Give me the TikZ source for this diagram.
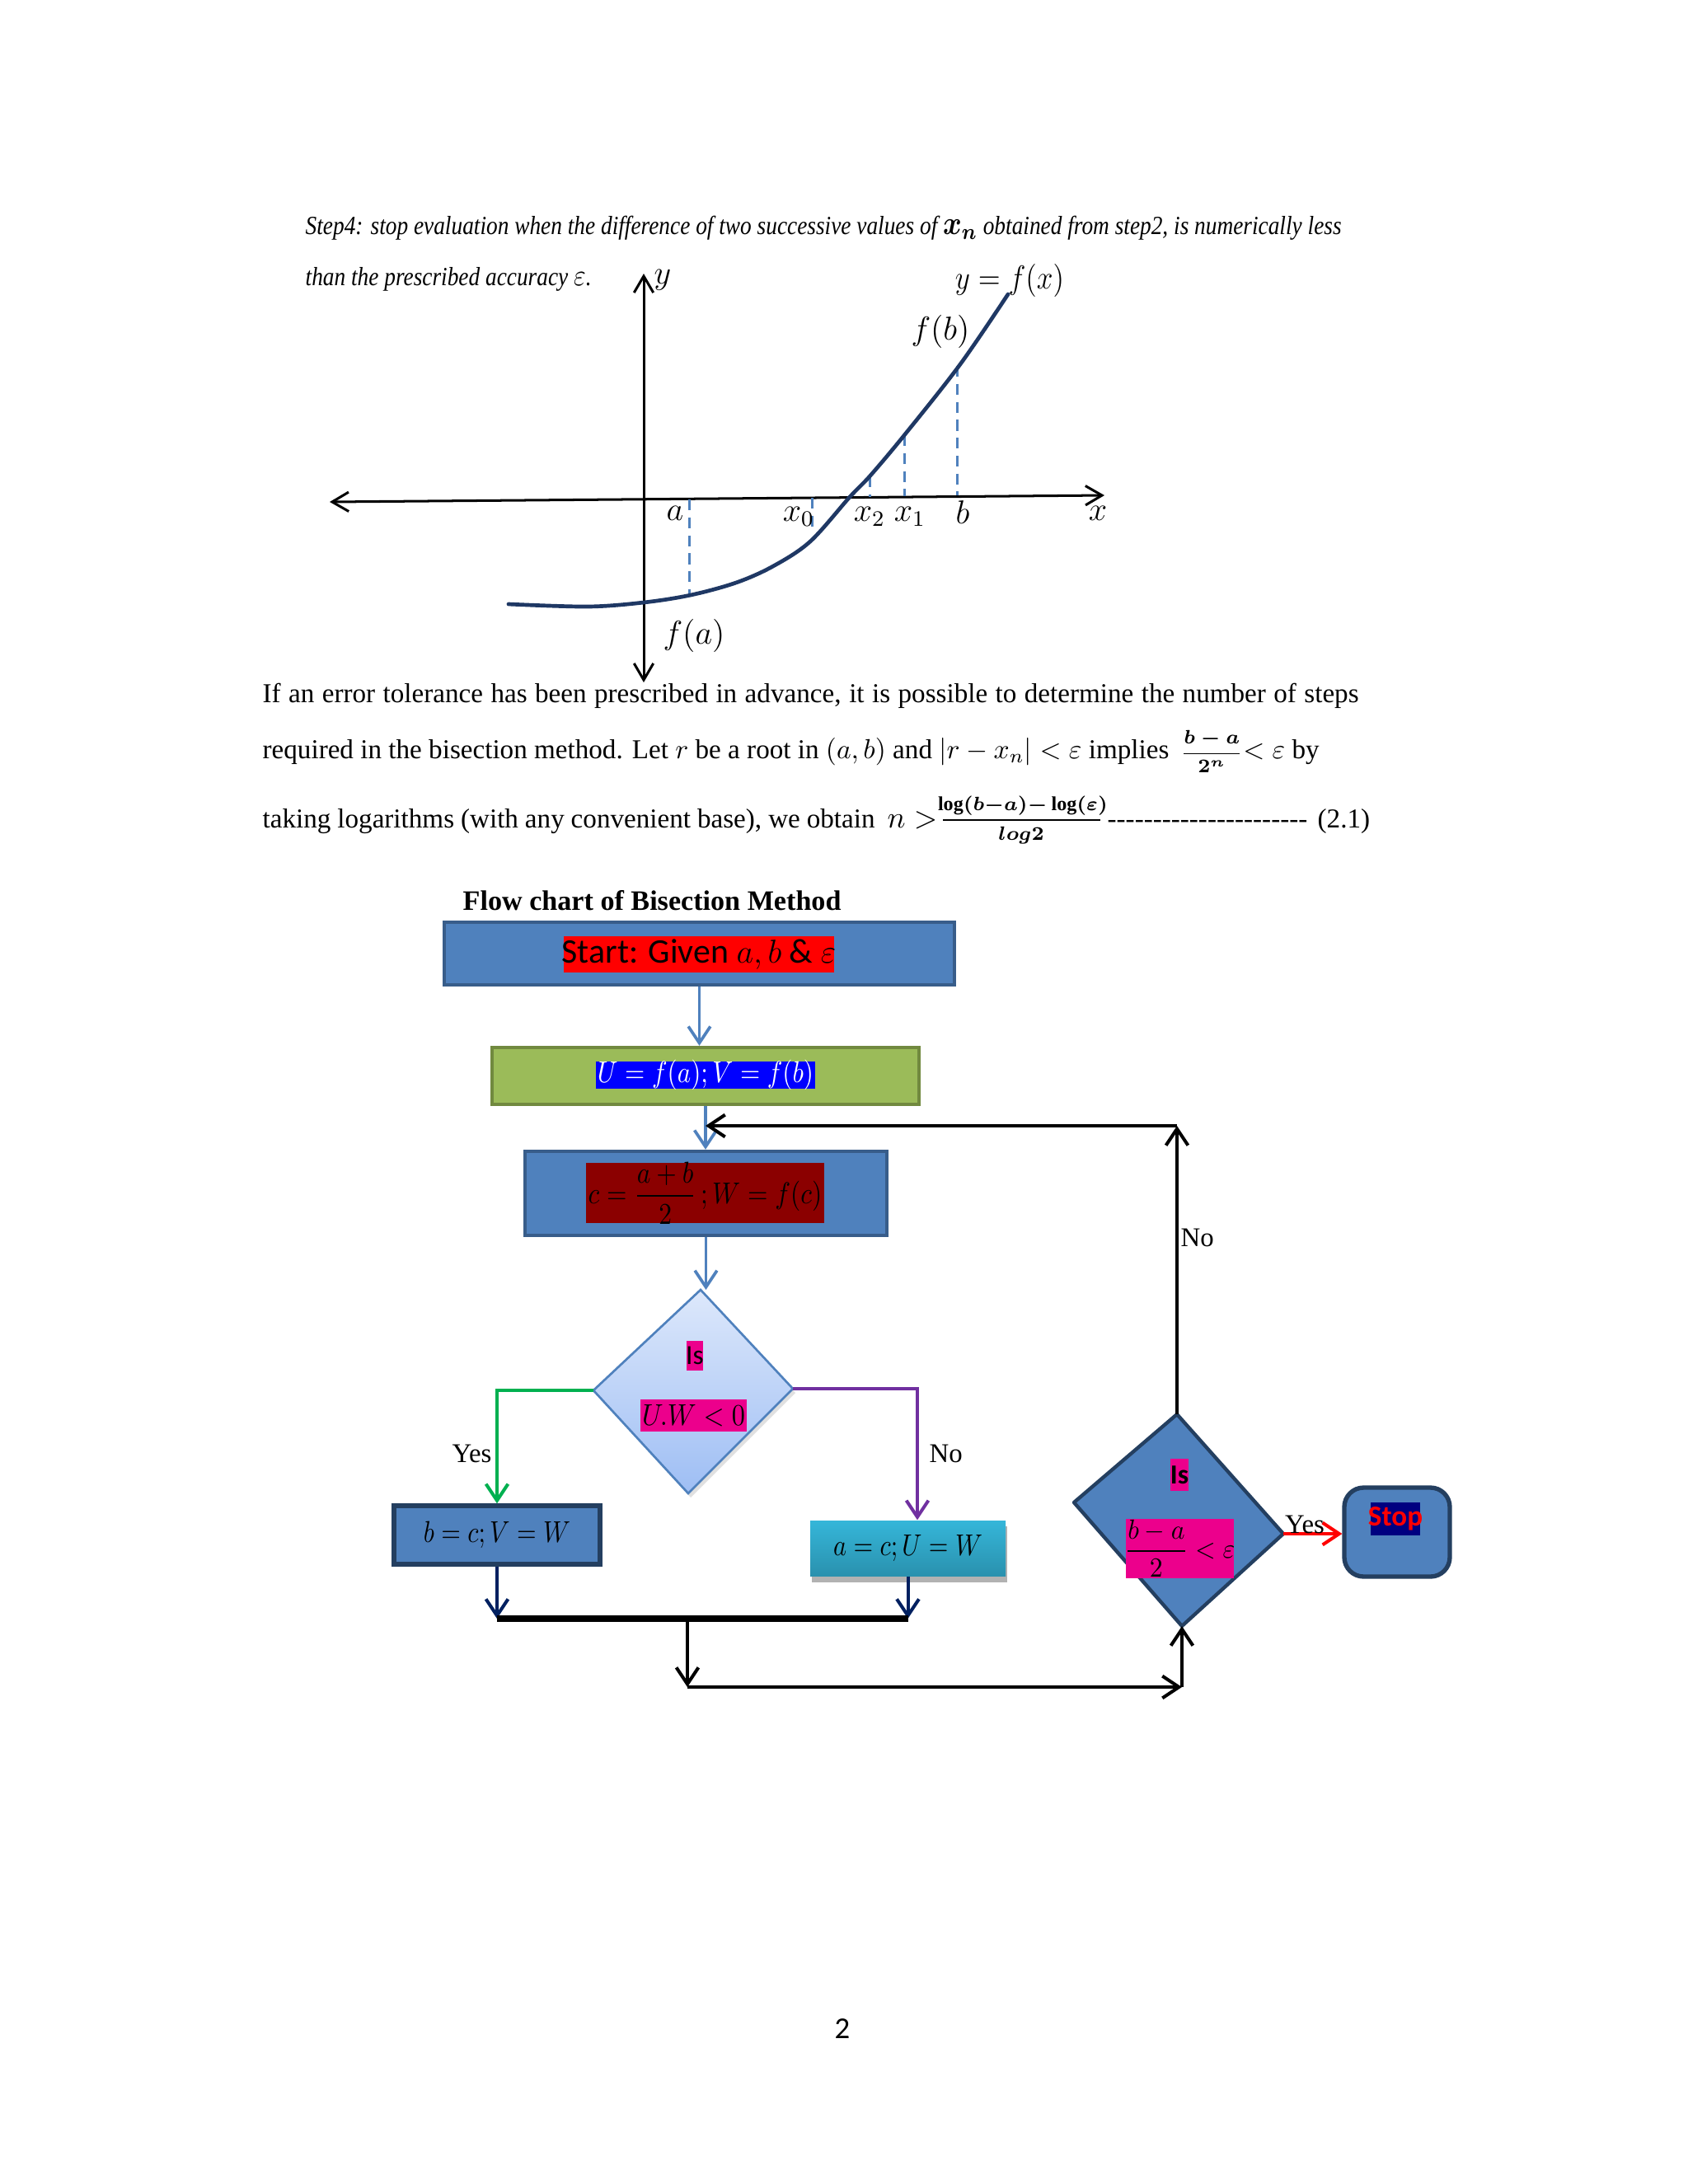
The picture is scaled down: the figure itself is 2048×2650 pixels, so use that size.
\documentclass[tikz,border=0pt]{standalone}
\usepackage{amsmath}
\usepackage{graphicx}
\usepackage{fontspec}
\setmainfont{Liberation Serif}
\newfontfamily\calib{Carlito}
\newfontfamily\plainserif{Liberation Serif}[Ligatures=TeXOff]
\usetikzlibrary{arrows.meta,fit}
\newcommand\narrowit[2]{\scalebox{#1}[1]{#2}}
\definecolor{boxblue}{HTML}{4F81BD}
\definecolor{boxline}{HTML}{385D8A}
\definecolor{darkline}{HTML}{243F60}
\definecolor{olive}{HTML}{9BBB59}
\definecolor{oliveline}{HTML}{71893F}
\definecolor{maroonhl}{HTML}{8B0000}
\definecolor{navyhl}{HTML}{000080}
\definecolor{curvecol}{HTML}{1F3864}
\definecolor{navyarrow}{HTML}{002060}
\definecolor{greenarrow}{HTML}{00B050}
\definecolor{purplearrow}{HTML}{7030A0}
\definecolor{cyantop}{HTML}{35B6D9}
\definecolor{cyanbot}{HTML}{2A91AE}
\definecolor{dtop}{HTML}{DDE8FB}
\definecolor{dbot}{HTML}{9EBEF4}
\begin{document}
\begin{tikzpicture}[x=0.29883pt,y=-0.29883pt,
  barb/.style={-{Straight Barb[length=6pt,width=8pt]}},
  twobarb/.style={{Straight Barb[length=6pt,width=7pt]}-{Straight Barb[length=6pt,width=7pt]}},
  axisline/.style={line width=0.9pt},
  dashln/.style={boxblue, line width=0.9pt, dash pattern=on 4pt off 2.5pt},
  glab/.style={inner sep=0pt, font=\fontsize{12}{14}\selectfont},
  body/.style={inner sep=0pt, anchor=base west, font=\fontsize{9.9}{12}\selectfont},
  ylab/.style={inner sep=0pt, font=\fontsize{9.8}{12}\selectfont},
  bluearr/.style={boxblue, line width=1.1pt, barb},
  blkarr/.style={black, line width=1.2pt, barb},
  navyarr/.style={navyarrow, line width=1.2pt, barb},
  hl/.style={inner sep=0pt},
  txt/.style={inner sep=0pt},
  mtxt/.style={inner sep=0pt, font=\fontsize{10.5}{12}\selectfont}
]
\useasboundingbox (0,0) rectangle (2048,2650);
\fill[white] (0,0) rectangle (2048,2650);

% ---------- top text ----------
\node[anchor=base west, inner sep=0pt] (s4a) at (370,284) {\narrowit{0.86}{\fontsize{9.5}{11}\selectfont\itshape Step4: stop evaluation when the difference of two successive values of {\fontsize{12}{13}\selectfont\boldmath$x_n$} obtained from step2, is numerically less}};
\node[anchor=base west, inner sep=0pt] (s4b) at (370,346) {\narrowit{0.86}{\fontsize{9.5}{11}\selectfont\itshape than the prescribed accuracy {\fontsize{11}{12}\selectfont$\varepsilon$}.}};

% ---------- graph ----------
\coordinate (xl) at (400,609);
\coordinate (xr) at (1340,601);
\coordinate (yt) at (781,332);
\coordinate (yb) at (781,828);
\draw[axisline, twobarb] (xl) -- (xr);
\draw[axisline, twobarb] (yb) -- (yt);
\draw[dashln] (836,606) -- (836,722);
\draw[dashln] (985,604) -- (985,643);
\draw[dashln] (1055,578) -- (1055,603);
\draw[dashln] (1097,528) -- (1097,602);
\draw[dashln] (1161,444) -- (1161,601);
\draw[curvecol, line width=1.4pt, line cap=round] plot[smooth, tension=0.55] coordinates {(617,733) (713,736) (781,731) (838,722) (893,707) (938,687) (983,657) (1031,603) (1056,577) (1098,527) (1165,442) (1223,357)};
\node[glab] (ly) at (804,340) {$y$};
\node[glab] (lyf) at (1225,340) {\narrowit{0.88}{$y=f(x)$}};
\node[glab] (lfb) at (1141,402) {$f(b)$};
\node[glab] (la) at (819,623) {$a$};
\node[glab] (lx0) at (969,627) {$x_0$};
\node[glab] (lx2) at (1055,627) {$x_2$};
\node[glab] (lx1) at (1104,627) {$x_1$};
\node[glab] (lb) at (1168,622) {$b$};
\node[glab] (lx) at (1332,623) {$x$};
\node[glab] (lfa) at (842,771) {$f(a)$};

% ---------- paragraph ----------
\node[body] (p1) at (318,852) {\makebox[397.4pt][s]{If an error tolerance has been prescribed in advance, it is possible to determine the number of steps}};
\node[body] (p2) at (318,920) {\makebox[383.1pt][s]{required in the bisection method. Let $r$ be a root in $(a,b)$ and $|r-x_n|<\varepsilon$ implies\, {\fontsize{7}{8}\selectfont\boldmath$\displaystyle\frac{b-a}{2^n}$}$<\varepsilon$ by}};
\node[body] (p3) at (318,1004) {\makebox[222pt][s]{taking logarithms (with any convenient base), we obtain}};
\node[body] (p3n) at (1076,1004) {\fontsize{11}{12}\selectfont$n>$};
\node[inner sep=0pt, font=\fontsize{7.2}{8}\selectfont] (numer) at (1241,978) {{\boldmath$\log(b{-}a){-}\log(\varepsilon)$}};
\draw[line width=0.8pt] (1144,995) -- (1335,995);
\node[inner sep=0pt, font=\fontsize{7.5}{8}\selectfont] (denom) at (1239,1014) {{\boldmath$log2$}};
\node[body] (p3d) at (1343,1004) {\plainserif ----------------------};
\node[body] (p3e) at (1598,1004) {(2.1)};

% ---------- flowchart ----------
\node[anchor=base west, inner sep=0pt, font=\fontsize{10.2}{12}\selectfont\bfseries] (title) at (561,1104) {Flow chart of Bisection Method};

\node[fit={(539,1119) (1158,1195)}, inner sep=0pt, draw=boxline, line width=1.3pt, fill=boxblue] (start) {};
\node[fit={(684,1136) (1012,1180)}, hl, fill=red] (starthl) {};
\node[txt, font=\calib\fontsize{12.5}{14}\selectfont] (starttxt) at (starthl.center) {Start: Given $a, b$ \& $\varepsilon$};

\node[fit={(597,1271) (1115,1340)}, inner sep=0pt, draw=oliveline, line width=1.3pt, fill=olive] (ubox) {};
\node[fit={(723,1288) (989,1321)}, hl, fill=blue] (uhl) {};
\node[mtxt, text=white] (utxt) at (uhl.center) {\narrowit{0.85}{$U=f(a);V=f(b)$}};

\node[fit={(637,1397) (1076,1499)}, inner sep=0pt, draw=boxline, line width=1.3pt, fill=boxblue] (cbox) {};
\node[fit={(711,1411) (1000,1484)}, hl, fill=maroonhl] (chl) {};
\node[mtxt, text=black] (ctxt) at (chl.center) {\narrowit{0.86}{$c=\dfrac{a+b}{2}\,;W=f(c)$}};

% diamond 1
\coordinate (d1t) at (850,1565);
\coordinate (d1l) at (720,1687);
\coordinate (d1r) at (962,1685);
\coordinate (d1b) at (835,1812);
\fill[black!12] ([shift={(3,5)}]d1t) -- ([shift={(3,5)}]d1r) -- ([shift={(3,5)}]d1b) -- ([shift={(3,5)}]d1l) -- cycle;
\path[draw=boxblue, line width=0.8pt, top color=dtop, bottom color=dbot] (d1t) -- (d1r) -- (d1b) -- (d1l) -- cycle;
\node[fit={(833,1627) (853,1663)}, hl, fill=magenta] (d1ishl) {};
\node[txt, font=\calib\fontsize{10}{12}\selectfont] (d1is) at (d1ishl.center) {Is};
\node[fit={(777,1698) (906,1737)}, hl, fill=magenta] (d1qhl) {};
\node[mtxt] (d1q) at (d1qhl.center) {\narrowit{0.88}{$U.W<0$}};

% yes/no boxes
\node[fit={(478,1827) (728,1898)}, inner sep=0pt, draw=darkline, line width=1.6pt, fill=boxblue] (bbox) {};
\node[mtxt] (btxt) at (bbox.center) {\narrowit{0.83}{$b=c;V=W$}};
\fill[black!30] (985,1852) rectangle (1222,1920);
\node[fit={(983,1845) (1220,1912)}, inner sep=0pt, top color=cyantop, bottom color=cyanbot] (abox) {};
\node[mtxt] (atxt) at (abox.center) {\narrowit{0.83}{$a=c;U=W$}};

% diamond 2
\coordinate (d2t) at (1428,1716);
\coordinate (d2l) at (1303,1823);
\coordinate (d2r) at (1557,1861);
\coordinate (d2b) at (1434,1973);
\draw[fill=boxblue, draw=darkline, line width=1.3pt, line join=round] (d2t) -- (d2r) -- (d2b) -- (d2l) -- cycle;
\node[fit={(1420,1770) (1442,1809)}, hl, fill=magenta] (d2ishl) {};
\node[txt, font=\calib\bfseries\fontsize{10}{12}\selectfont] (d2is) at (d2ishl.center) {Is};
\node[fit={(1366,1843) (1497,1915)}, hl, fill=magenta] (d2qhl) {};
\node[mtxt, font=\fontsize{10}{12}\selectfont] (d2q) at (d2qhl.center) {\narrowit{0.95}{$\dfrac{b-a}{2}<\varepsilon$}};

% stop
\node[fit={(1631,1805) (1759,1913)}, inner sep=0pt, draw=darkline, line width=1.6pt, fill=boxblue, rounded corners=7pt] (stop) {};
\node[fit={(1663,1823) (1723,1863)}, hl, fill=navyhl] (stophl) {};
\node[txt, text=red, font=\calib\bfseries\fontsize{10.5}{12}\selectfont] (stoptxt) at (stophl.center) {Stop};

% ---------- connectors ----------
\draw[bluearr] (start.south) -- (start.south |- ubox.north);
\draw[bluearr] (ubox.south) -- (ubox.south |- cbox.north);
\draw[bluearr] (cbox.south) -- (cbox.south |- d1t);

\draw[greenarrow, line width=1.2pt, barb] (d1l) -| (bbox.north);
\coordinate (nx) at (1113,1700);
\draw[purplearrow, line width=1.2pt, barb] (d1r) -| (nx |- abox.north);

\coordinate (barL) at (603,1964);
\coordinate (barR) at (1101.5,1964);
\coordinate (barM) at (834,1964);
\coordinate (botL) at (834,2047);
\coordinate (botR) at (1434,2047);
\draw[navyarr] (bbox.south) -- (barL);
\draw[navyarr] (abox.south) -- (barR);
\draw[line width=2.2pt] (barL) -- (barR);
\draw[blkarr] (barM) -- (botL);
\draw[blkarr] (botL) -- (botR);
\draw[blkarr] (botR) -- (d2b);

\coordinate (lc) at (1428,1366);
\draw[blkarr] (d2t) -- (lc);
\draw[blkarr] (lc) -- (lc -| ubox.south);

\draw[red, line width=1.2pt, barb] (d2r) -- (d2r -| stop.west);

\node[ylab, anchor=east] (yes1) at (597,1764) {Yes};
\node[ylab, anchor=west] (no1) at (1127,1764) {No};
\node[ylab, anchor=west] (no2) at (1432,1502) {No};
\node[ylab] (yes2) at (1583,1850) {Yes};

\node[inner sep=0pt, font=\calib\fontsize{11}{13}\selectfont] (pg) at (1022,2462) {2};
\end{tikzpicture}
\end{document}
